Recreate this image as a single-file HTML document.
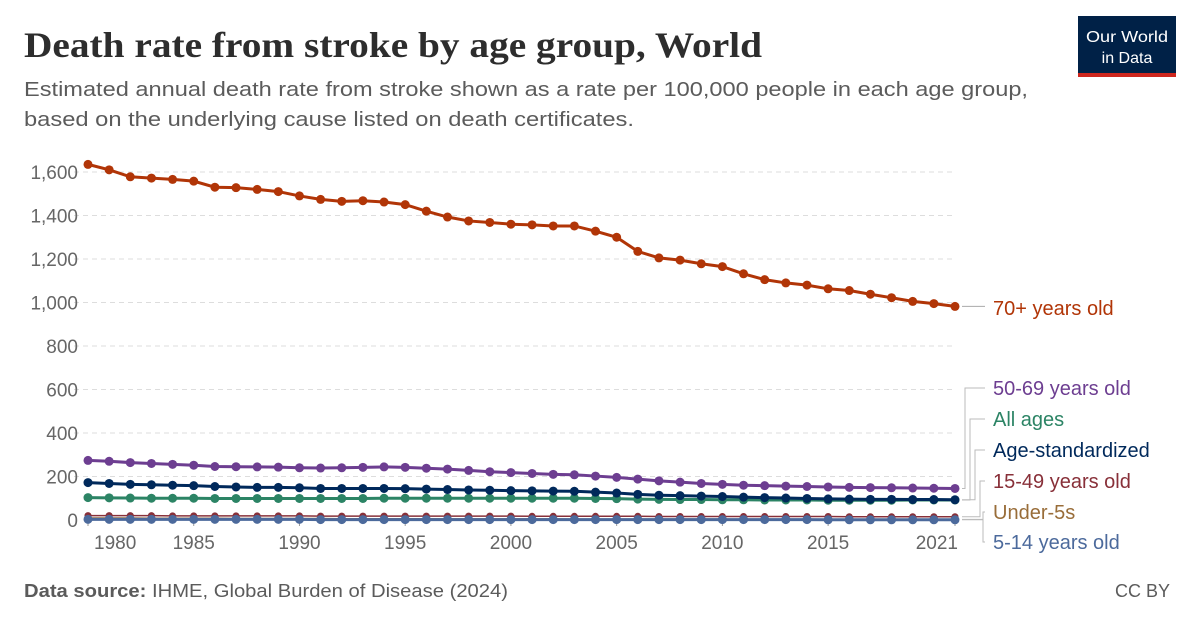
<!DOCTYPE html>
<html><head><meta charset="utf-8"><style>
body{margin:0;background:#fff;}
svg{display:block;font-family:"Liberation Sans",sans-serif;}
</style></head><body>
<svg id="chart" width="1200" height="627" viewBox="0 0 1200 627">
<text x="24" y="57" font-family="Liberation Serif,serif" font-weight="bold" font-size="36" fill="#2d2d2d" textLength="738" lengthAdjust="spacingAndGlyphs">Death rate from stroke by age group, World</text>
<text x="24" y="96" font-size="20" fill="#5b5b5b" textLength="1004" lengthAdjust="spacingAndGlyphs">Estimated annual death rate from stroke shown as a rate per 100,000 people in each age group,</text>
<text x="24" y="126" font-size="20" fill="#5b5b5b" textLength="610" lengthAdjust="spacingAndGlyphs">based on the underlying cause listed on death certificates.</text>
<g>
<rect x="1078" y="16" width="98" height="61" fill="#002147"/>
<rect x="1078" y="73" width="98" height="4" fill="#ce261e"/>
<text x="1127" y="42" text-anchor="middle" font-size="16" fill="#fff" textLength="82" lengthAdjust="spacingAndGlyphs">Our World</text>
<text x="1127" y="63" text-anchor="middle" font-size="16" fill="#fff">in Data</text>
</g>
<g id="grid"></g><g id="series"></g><g id="legend"></g>
<text x="24" y="597" font-size="18" fill="#5b5b5b" textLength="484" lengthAdjust="spacingAndGlyphs"><tspan font-weight="bold">Data source:</tspan> IHME, Global Burden of Disease (2024)</text>
<text x="1170" y="597" text-anchor="end" font-size="18" fill="#5b5b5b">CC BY</text>
</svg>
<script>
const years=[];for(let y=1980;y<=2021;y++)years.push(y);
const yTicks=[0,200,400,600,800,1000,1200,1400,1600];
const xTicks=[1980,1985,1990,1995,2000,2005,2010,2015,2021];
const v70=[1635,1610,1578,1572,1566,1558,1530,1528,1520,1510,1490,1474,1465,1468,1462,1450,1420,1393,1375,1368,1360,1357,1352,1352,1328,1300,1235,1205,1195,1178,1165,1132,1105,1090,1080,1063,1055,1038,1022,1005,995,982];
const v50=[274,270,264,260,256,252,246,245,244,243,240,239,240,242,244,242,238,234,228,222,218,214,210,208,202,196,188,180,174,168,164,160,158,156,154,152,150,149,148,147,146,145];
const vStd=[172,168,164,162,160,158,154,152,150,150,148,145,145,145,145,144,142,140,138,137,135,134,133,132,128,124,118,114,112,110,108,105,103,101,99,97,96,95,95,94,94,93];
const vAll=[103,102,101,100,100,100,99,99,99,99,99,99,99,99,100,100,100,100,100,100,100,100,100,100,99,98,96,95,94,94,93,93,92,92,92,91,91,91,91,92,92,92];
const v1549=[20,20,20,20,19,19,19,19,19,19,19,18,18,18,18,18,18,18,18,18,18,17,17,17,17,17,17,16,16,16,16,16,16,16,16,16,15,15,15,15,15,15];
const vU5=[9,9,9,8,8,8,8,7,7,7,7,7,6,6,6,6,6,5,5,5,5,5,5,4,4,4,4,4,4,4,4,3,3,3,3,3,3,3,3,3,3,3];
const v514=[3,3,3,3,3,3,3,3,3,3,3,2,2,2,2,2,2,2,2,2,2,2,2,2,2,2,2,2,2,2,2,2,2,2,2,1,1,1,1,1,1,1];
const NS='http://www.w3.org/2000/svg';
const X=y=>88+(y-1980)*(955-88)/41;
const Y=v=>520-v*(348/1600);
function mk(tag,attrs,parent,text){const e=document.createElementNS(NS,tag);for(const k in attrs)e.setAttribute(k,attrs[k]);if(text!==undefined)e.textContent=text;parent.appendChild(e);return e;}
const grid=document.getElementById('grid');
yTicks.forEach(t=>{
  if(t>0){const l=mk('line',{x1:74,x2:955,y1:Y(t),y2:Y(t),stroke:'#ddd','stroke-dasharray':'5,4'},grid);
  
  }
  const tx=mk('text',{x:78,y:Y(t)+7,'text-anchor':'end','font-size':19,fill:'#666'},grid,t.toLocaleString('en-US'));
  
  
});
xTicks.forEach((t,i)=>{
  mk('line',{x1:X(t),x2:X(t),y1:520,y2:526,stroke:'#999'},grid);
  let anchor='middle',x=X(t);
  if(i===0){anchor='start';x=X(t)+6;} if(i===xTicks.length-1){anchor='end';x=X(t)+3;}
  const tx=mk('text',{x:x,y:549,'text-anchor':anchor,'font-size':19,fill:'#666'},grid,String(t));
  
  
});
const series=[
 {n:'Under-5s',v:vU5,c:'#996d39',ly:512,ex:983,thin:true},
 {n:'15-49 years old',v:v1549,c:'#883039',ly:481,ex:980,thin:true},
 {n:'5-14 years old',v:v514,c:'#4c6a9c',ly:542,ex:983,thin:false},
 {n:'All ages',v:vAll,c:'#2c8465',ly:419,ex:970,thin:false},
 {n:'Age-standardized',v:vStd,c:'#00295b',ly:450,ex:975,thin:false},
 {n:'50-69 years old',v:v50,c:'#6d3e91',ly:388,ex:965,thin:false},
 {n:'70+ years old',v:v70,c:'#b13507',ly:308,ex:null,thin:false},
];
const sg=document.getElementById('series'),lg=document.getElementById('legend');
series.forEach(s=>{
  const g=mk('g',{},sg);
  
  
  mk('polyline',{points:years.map((y,i)=>X(y)+','+Y(s.v[i])).join(' '),fill:'none',stroke:s.c,'stroke-width':s.thin?1.5:3},g);
  years.forEach((y,i)=>{const c=mk('circle',{cx:X(y),cy:Y(s.v[i]),r:s.thin?3.5:4.5,fill:s.c},g);
    
    });
  const py=Y(s.v[s.v.length-1]);
  if(s.ex===null) mk('line',{x1:962,x2:985,y1:py,y2:py,stroke:'#aaa'},lg);
  else mk('polyline',{points:`962,${py} ${s.ex},${py} ${s.ex},${s.ly} 985,${s.ly}`,fill:'none',stroke:'#bbb'},lg);
  const t=mk('text',{x:993,y:s.ly+7,'font-size':20,fill:s.c},lg,s.n);
  
  
});
</script>
</body></html>
